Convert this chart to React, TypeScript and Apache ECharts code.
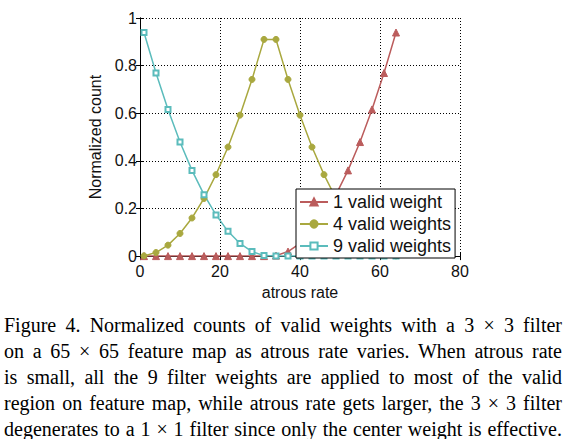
import React, { useEffect, useRef } from 'react';
import * as echarts from 'echarts';

// atrous rates sampled on the 65 x 65 map
const rates = [1, 4, 7, 10, 13, 16, 19, 22, 25, 28, 31, 34, 37, 40, 43, 46, 49, 52, 55, 58, 61, 64];

const oneValid = [0, 0, 0, 0, 0, 0, 0, 0, 0, 0, 0, 0.002, 0.019, 0.053, 0.104, 0.173, 0.258, 0.36, 0.479, 0.616, 0.769, 0.939];
const fourValid = [0.001, 0.015, 0.046, 0.095, 0.16, 0.242, 0.342, 0.458, 0.592, 0.742, 0.91, 0.91, 0.742, 0.592, 0.458, 0.342, 0.242, 0.16, 0.095, 0.046, 0.015, 0.001];
const nineValid = [0.939, 0.769, 0.616, 0.479, 0.36, 0.258, 0.173, 0.104, 0.053, 0.019, 0.002, 0, 0, 0, 0, 0, 0, 0, 0, 0, 0, 0];

const seriesNames = ['1 valid weight', '4 valid weights', '9 valid weights'];
const seriesColors = ['#bb5c5c', '#a9a83f', '#5bbcbc'];

const captionLines = [
  'Figure 4. Normalized counts of valid weights with a 3 \u00d7 3 filter',
  'on a 65 \u00d7 65 feature map as atrous rate varies. When atrous rate',
  'is small, all the 9 filter weights are applied to most of the valid',
  'region on feature map, while atrous rate gets larger, the 3 \u00d7 3 filter',
  'degenerates to a 1 \u00d7 1 filter since only the center weight is effective.',
];

const sans = '"Liberation Sans", Arial, Helvetica, sans-serif';
const ink = '#111';

const pairs = (ys: number[]) => ys.map((y, i) => [rates[i], y]);

const Chart: React.FC = () => {
  const chartRef = useRef<HTMLDivElement>(null);

  useEffect(() => {
    if (!chartRef.current) return;
    const chart = echarts.init(chartRef.current, undefined, { renderer: 'svg' });

    const dotted = { color: '#000', width: 1, type: [1, 2] as number[] };
    const tick = { show: true, inside: true, length: 4, lineStyle: { color: '#000' } };

    const option: echarts.EChartsOption = {
      animation: false,
      textStyle: { fontFamily: sans },
      grid: { left: 140, top: 18, width: 320, height: 245 },
      xAxis: [
        {
          type: 'value',
          min: 0,
          max: 80,
          interval: 20,
          name: 'atrous rate',
          nameLocation: 'middle',
          nameGap: 25,
          nameTextStyle: { fontSize: 16, color: ink, fontFamily: sans },
          axisLine: { lineStyle: { color: '#000', width: 1 } },
          axisTick: tick,
          axisLabel: { fontSize: 16, color: ink, margin: 7, fontFamily: sans },
          splitLine: { show: true, lineStyle: dotted },
        },
        {
          type: 'value',
          position: 'top',
          min: 0,
          max: 80,
          interval: 20,
          axisLine: { show: true, lineStyle: { color: '#000', width: 1 } },
          axisTick: tick,
          axisLabel: { show: false },
          splitLine: { show: false },
        },
      ],
      yAxis: [
        {
          type: 'value',
          min: 0,
          max: 1,
          interval: 0.2,
          name: 'Normalized count',
          nameLocation: 'middle',
          nameGap: 35,
          nameRotate: 90,
          nameTextStyle: { fontSize: 16, color: ink, fontFamily: sans },
          axisLine: { show: true, lineStyle: { color: '#000', width: 1 } },
          axisTick: tick,
          axisLabel: { fontSize: 16, color: ink, margin: 3, fontFamily: sans },
          splitLine: { show: true, lineStyle: dotted },
        },
        {
          type: 'value',
          position: 'right',
          min: 0,
          max: 1,
          interval: 0.2,
          axisLine: { show: true, lineStyle: { color: '#000', width: 1 } },
          axisTick: tick,
          axisLabel: { show: false },
          splitLine: { show: false },
        },
      ],
      legend: {
        left: 296,
        top: 189,
        orient: 'vertical',
        padding: [3, 4, 2, 3],
        itemGap: 2,
        itemWidth: 28,
        itemHeight: 9,
        backgroundColor: '#fff',
        borderColor: '#000',
        borderWidth: 1,
        borderRadius: 0,
        textStyle: { fontSize: 18, lineHeight: 20, color: ink, fontFamily: sans },
        data: seriesNames,
      },
      series: [
        {
          name: seriesNames[0],
          type: 'line',
          data: pairs(oneValid),
          symbol: 'triangle',
          symbolSize: 7,
          lineStyle: { color: seriesColors[0], width: 1.5 },
          itemStyle: { color: seriesColors[0], borderColor: seriesColors[0], borderWidth: 1 },
        },
        {
          name: seriesNames[1],
          type: 'line',
          data: pairs(fourValid),
          symbol: 'circle',
          symbolSize: 6,
          lineStyle: { color: seriesColors[1], width: 1.5 },
          itemStyle: { color: seriesColors[1], borderColor: seriesColors[1], borderWidth: 1 },
        },
        {
          name: seriesNames[2],
          type: 'line',
          data: pairs(nineValid),
          symbol: 'emptyRect',
          symbolSize: 5,
          lineStyle: { color: seriesColors[2], width: 1.5 },
          itemStyle: { color: seriesColors[2], borderColor: seriesColors[2], borderWidth: 1 },
        },
      ],
    };

    chart.setOption(option);
    return () => {
      chart.dispose();
    };
  }, []);

  return <div ref={chartRef} style={{ position: 'absolute', left: 0, top: 0, width: 568, height: 305 }} />;
};

const App: React.FC = () => (
  <div style={{ position: 'fixed', left: 0, top: 0, width: 568, height: 439, background: '#fff', overflow: 'hidden' }}>
    <Chart />
    {captionLines.map((line, i) => (
      <div
        key={i}
        style={{
          position: 'absolute',
          left: 4,
          top: 312 + i * 26,
          width: 558,
          fontFamily: '"Liberation Serif", "Times New Roman", serif',
          fontSize: 20,
          lineHeight: '26px',
          color: '#000',
          whiteSpace: 'nowrap',
          textAlign: 'justify',
          textAlignLast: 'justify',
        }}
      >
        {line}
      </div>
    ))}
  </div>
);

export default App;
